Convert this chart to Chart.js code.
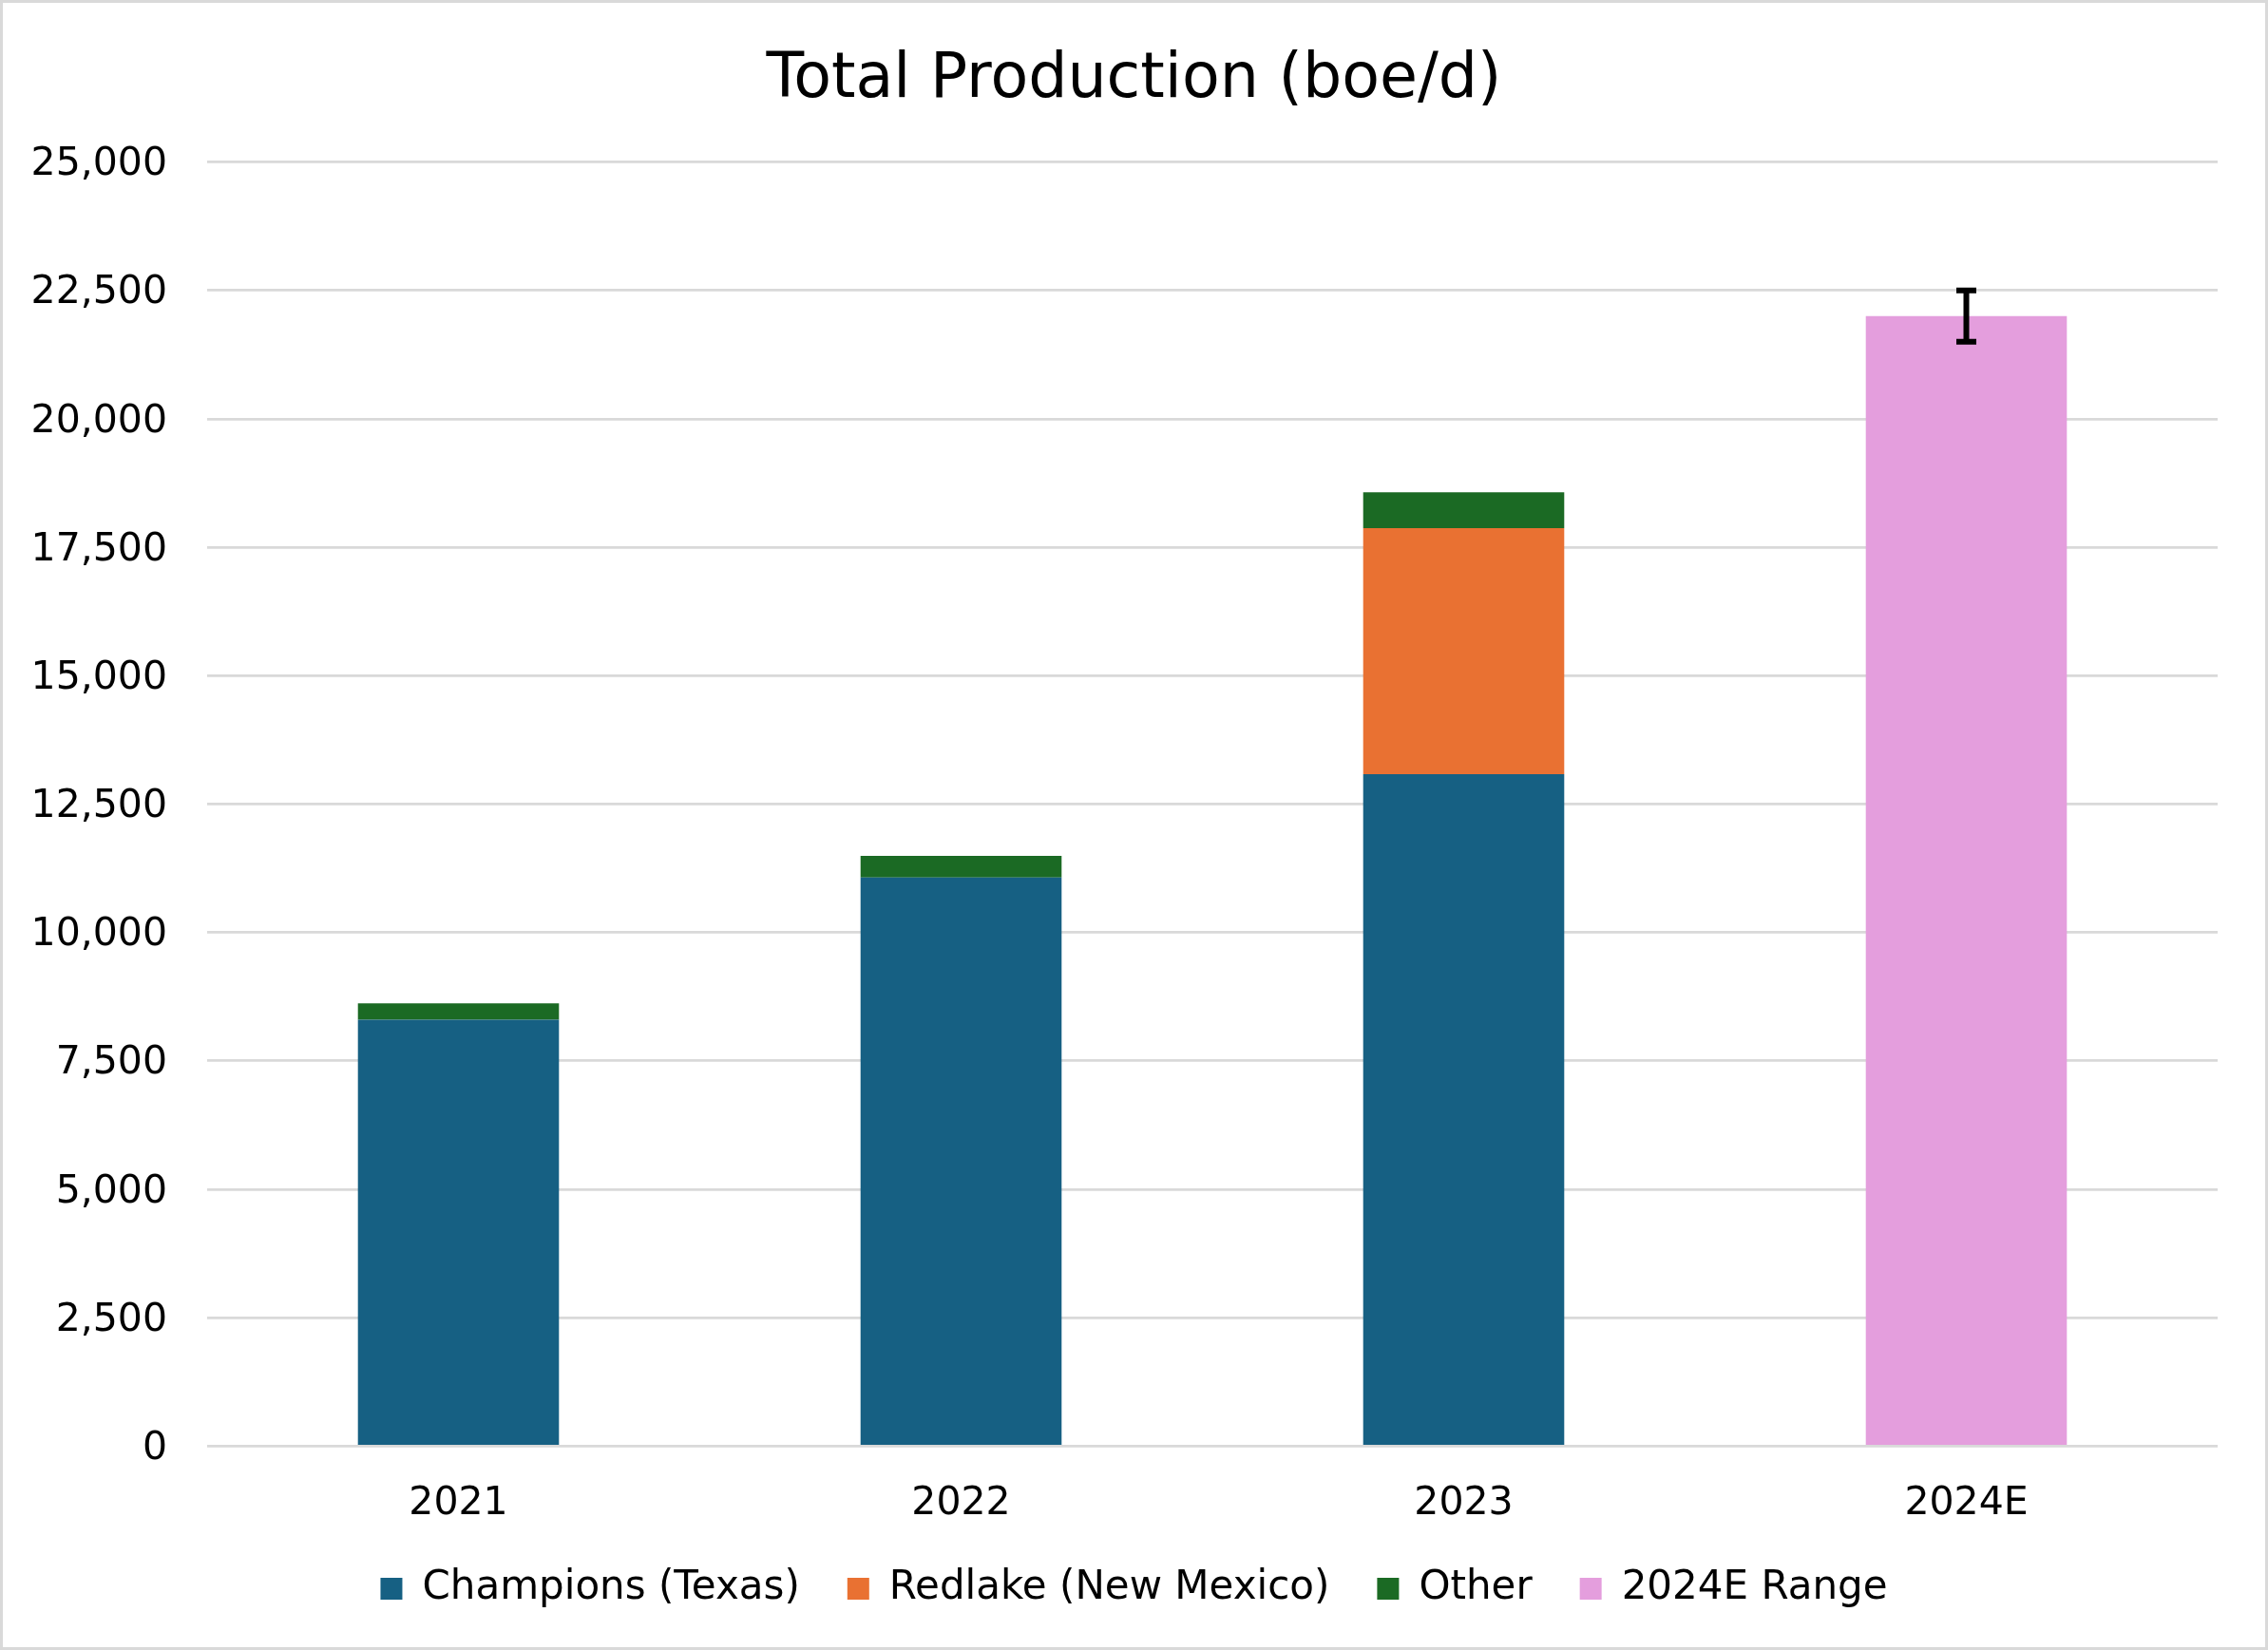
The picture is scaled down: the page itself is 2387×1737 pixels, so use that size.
<!DOCTYPE html>
<html lang="en">
<head>
    <meta charset="UTF-8">
    <title>Total Production (boe/d)</title>
    <script src="https://cdn.jsdelivr.net/npm/chart.js"></script>
    <style>
        html, body {
            margin: 0;
            padding: 0;
            background: #fff;
        }
        .frame {
            width: 2387px;
            height: 1737px;
            box-sizing: border-box;
            border: 3px solid #d9d9d9;
            position: relative;
        }
    </style>
</head>
<body>
    <div class="frame">
        <canvas id="productionChart"></canvas>
    </div>

    <script>
        // data
        const years = ['2021', '2022', '2023', '2024E'];
        const champions = [8300, 11070, 13080, null];
        const redlake = [null, null, 4790, null];
        const other = [320, 420, 700, null];
        const range2024 = [null, null, null, 22000];
        const rangeLow = [null, null, null, 21500];
        const rangeHigh = [null, null, null, 22500];
        const yTicks = [0, 2500, 5000, 7500, 10000, 12500, 15000, 17500, 20000, 22500, 25000];

        const FONT = "'DejaVu Sans', Verdana, sans-serif";

        // black I-beam drawn on the estimate range
        const errorBars = {
            id: 'errorBars',
            afterDatasetsDraw(chart) {
                const ctx = chart.ctx;
                const xs = chart.scales.x;
                const ys = chart.scales.y;
                ctx.save();
                ctx.strokeStyle = '#000';
                ctx.lineWidth = 6;
                ctx.lineCap = 'butt';
                rangeLow.forEach((lo, i) => {
                    if (lo == null) return;
                    const x = xs.getPixelForValue(i);
                    const yLo = ys.getPixelForValue(lo);
                    const yHi = ys.getPixelForValue(rangeHigh[i]);
                    ctx.beginPath();
                    ctx.moveTo(x, yLo);
                    ctx.lineTo(x, yHi);
                    ctx.moveTo(x - 10.5, yLo);
                    ctx.lineTo(x + 10.5, yLo);
                    ctx.moveTo(x - 10.5, yHi);
                    ctx.lineTo(x + 10.5, yHi);
                    ctx.stroke();
                });
                ctx.restore();
            }
        };

        const barOpts = { barPercentage: 0.4, categoryPercentage: 1.0, borderWidth: 0 };

        new Chart(document.getElementById('productionChart'), {
            type: 'bar',
            data: {
                labels: years,
                datasets: [
                    Object.assign({ label: 'Champions (Texas)', data: champions, backgroundColor: '#166083' }, barOpts),
                    Object.assign({ label: 'Redlake (New Mexico)', data: redlake, backgroundColor: '#E97132' }, barOpts),
                    Object.assign({ label: 'Other', data: other, backgroundColor: '#1B6A24' }, barOpts),
                    Object.assign({ label: '2024E Range', data: range2024, backgroundColor: '#E49EDD' }, barOpts)
                ]
            },
            options: {
                responsive: true,
                maintainAspectRatio: false,
                devicePixelRatio: 1,
                animation: false,
                layout: {
                    padding: { left: 0, right: 0, top: 0, bottom: 30.5 }
                },
                plugins: {
                    title: {
                        display: true,
                        text: 'Total Production (boe/d)',
                        color: '#000',
                        font: { family: FONT, size: 65, weight: 'normal', lineHeight: 1.2 },
                        padding: { top: 42.8, bottom: 46.7 }
                    },
                    legend: {
                        position: 'bottom',
                        labels: {
                            color: '#000',
                            font: { family: FONT, size: 42 },
                            boxWidth: 23,
                            boxHeight: 23,
                            padding: 50
                        }
                    },
                    tooltip: { enabled: false }
                },
                scales: {
                    x: {
                        stacked: true,
                        grid: { display: false, drawTicks: false },
                        border: { display: false },
                        ticks: {
                            color: '#000',
                            font: { family: FONT, size: 41 },
                            padding: 36
                        },
                        afterFit(scale) { scale.height = 79.2; }
                    },
                    y: {
                        stacked: true,
                        min: 0,
                        max: 25000,
                        afterBuildTicks(scale) {
                            scale.ticks = yTicks.map(v => ({ value: v }));
                        },
                        grid: { color: '#d9d9d9', lineWidth: 2.7, drawTicks: false },
                        border: { display: false },
                        ticks: {
                            color: '#000',
                            font: { family: FONT, size: 41 },
                            padding: 42,
                            labelOffset: 3,
                            callback: v => v.toLocaleString('en-US')
                        },
                        afterFit(scale) { scale.width = 215; }
                    },
                    // empty right-hand strip so the plot stops short of the frame
                    yRight: {
                        position: 'right',
                        display: true,
                        grid: { display: false, drawTicks: false },
                        border: { display: false },
                        ticks: { display: false },
                        afterFit(scale) { scale.width = 50; }
                    }
                }
            },
            plugins: [errorBars]
        });
    </script>
</body>
</html>
